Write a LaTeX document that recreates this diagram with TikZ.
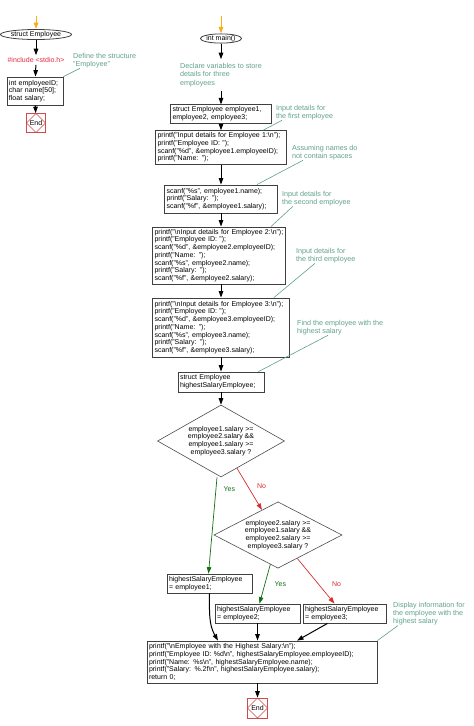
\documentclass[tikz,border=0pt]{standalone}
\usepackage{fontspec}
\setmainfont{Liberation Sans}
\usetikzlibrary{shapes.geometric,arrows.meta,calc}

\definecolor{notegreen}{RGB}{96,160,140}
\definecolor{yesgreen}{RGB}{20,110,20}
\definecolor{nored}{RGB}{215,45,45}
\definecolor{endred}{RGB}{205,75,75}
\definecolor{startorange}{RGB}{250,170,30}
\definecolor{incred}{RGB}{230,40,60}
\newcommand\codefont{\fontsize{7}{7.7}\selectfont}
\newcommand\notefont{\fontsize{7.2}{8.2}\selectfont}

\tikzset{
  code/.style={draw=black!75, line width=0.8pt, rectangle, align=left, inner sep=2pt, font=\codefont},
  term/.style={draw=black!75, line width=0.8pt, ellipse, inner sep=0pt, font=\codefont},
  decide/.style={draw=black!70, line width=0.6pt, diamond, align=center, inner sep=0pt, aspect=1.8, font=\codefont},
  note/.style={text=notegreen, align=left, inner sep=0pt, font=\notefont},
  notelink/.style={notegreen, line width=0.6pt},
  flow/.style={-{Triangle[length=6.5pt,width=4.5pt]}, line width=1pt, black},
  startflow/.style={flow, startorange},
  yesflow/.style={flow, yesgreen, line width=0.7pt},
  noflow/.style={flow, nored, line width=0.7pt},
  endbox/.style={draw=endred, line width=0.6pt, minimum width=19pt, minimum height=19pt, inner sep=0pt, font=\codefont,
    path picture={\draw[endred, line width=0.6pt] (path picture bounding box.north) -- (path picture bounding box.east)
      -- (path picture bounding box.south) -- (path picture bounding box.west) -- cycle;}}
}

\begin{document}
\begin{tikzpicture}[x=1pt, y=-1pt]
    \useasboundingbox (0,0) rectangle (474,726);

    % the structure
    \coordinate (s1) at (36,16);
    \node[term, minimum width=62, minimum height=10] (structE) at (36,34.5) {struct Employee};
    \node[text=incred, inner sep=2pt, font=\codefont] (inc) at (36,60) {\#include <stdio.h>};
    \node[code, minimum height=28, text width=52] (fields) at (35,91) {int employeeID;\\char name[50];\\float salary;};
    \node[endbox] (end1) at (36,123) {End};
    \node[note, anchor=north west] (defnote) at (73,53) {Define the structure\\"Employee"};

    \draw[startflow] (s1) -- (structE);
    \draw[flow] (structE) -- (inc);
    \draw[flow] (inc) -- (fields);
    \draw[flow] (fields) -- (end1);
    \draw[notelink] ([xshift=7pt]defnote.south west) -- (fields.north east);

    % main
    \coordinate (s2) at (221,16);
    \node[term, minimum width=40, minimum height=9] (mainE) at (221,38.5) {int main()};
    \node[note, inner sep=4pt] (declnote) at (221,75) {Declare variables to store\\details for three\\employees};
    \node[code, minimum height=18, text width=97] (decl) at (221,114) {struct Employee employee1,\\employee2, employee3;};
    \node[code, minimum height=28, text width=127] (in1) at (221,147.5) {printf("Input details for Employee 1:\textbackslash n");\\printf("Employee ID: ");\\scanf("\%d", \&employee1.employeeID);\\printf("Name: ");};
    \node[code, minimum height=28, text width=109] (in1b) at (221,199) {scanf("\%s", employee1.name);\\printf("Salary: ");\\scanf("\%f", \&employee1.salary);};
    \node[code, minimum height=57, text width=129] (in2) at (219,255.5) {printf("\textbackslash nInput details for Employee 2:\textbackslash n");\\printf("Employee ID: ");\\scanf("\%d", \&employee2.employeeID);\\printf("Name: ");\\scanf("\%s", employee2.name);\\printf("Salary: ");\\scanf("\%f", \&employee2.salary);};
    \node[code, minimum height=59, text width=133] (in3) at (221,327.5) {printf("\textbackslash nInput details for Employee 3:\textbackslash n");\\printf("Employee ID: ");\\scanf("\%d", \&employee3.employeeID);\\printf("Name: ");\\scanf("\%s", employee3.name);\\printf("Salary: ");\\scanf("\%f", \&employee3.salary);};
    \node[code, minimum height=20, text width=82] (best) at (221,382) {struct Employee\\highestSalaryEmployee;};

    \node[decide, minimum width=127, minimum height=72] (cmp1) at (221,441) {employee1.salary >=\\employee2.salary \&\&\\employee1.salary >=\\employee3.salary ?};
    \node[decide, minimum width=128, minimum height=66] (cmp2) at (278,535) {employee2.salary >=\\employee1.salary \&\&\\employee2.salary >=\\employee3.salary ?};

    \node[code, minimum height=19, text width=81] (set1) at (209.5,583.5) {highestSalaryEmployee\\= employee1;};
    \node[code, minimum height=19, text width=81] (set2) at (257.5,613.5) {highestSalaryEmployee\\= employee2;};
    \node[code, minimum height=19, text width=79] (set3) at (344.5,613.5) {highestSalaryEmployee\\= employee3;};
    \node[code, minimum height=42, text width=226] (show) at (262,662) {printf("\textbackslash nEmployee with the Highest Salary:\textbackslash n");\\printf("Employee ID: \%d\textbackslash n", highestSalaryEmployee.employeeID);\\printf("Name: \%s\textbackslash n", highestSalaryEmployee.name);\\printf("Salary: \%.2f\textbackslash n", highestSalaryEmployee.salary);\\return 0;};
    \node[endbox, minimum width=20pt, minimum height=20pt] (end2) at (257.5,708) {End};

    % comments
    \node[note, anchor=north west] (n1) at (276,105) {Input details for\\the first employee};
    \node[note, anchor=north west] (n2) at (292,145) {Assuming names do\\not contain spaces};
    \node[note, anchor=north west] (n3) at (282,191) {Input details for\\the second employee};
    \node[note, anchor=north west] (n4) at (296,248) {Input details for\\the third employee};
    \node[note, anchor=north west] (n5) at (297,320) {Find the employee with the\\highest salary};
    \node[note, anchor=north west] (n6) at (393,602) {Display information for\\the employee with the\\highest salary};

    \draw[startflow] (s2) -- (mainE);
    \draw[flow] (mainE) -- (declnote);
    \draw[flow] (declnote) -- (decl);
    \draw[flow] (decl) -- (in1);
    \draw[flow] (in1) -- (in1b);
    \draw[flow] (in1b.south) -- (in1b.south |- in2.north);
    \draw[flow] (in1b.south |- in2.south) -- (in1b.south |- in3.north);
    \draw[flow] (in3) -- (best);
    \draw[flow] (best) -- (cmp1);

    \draw[yesflow] ([xshift=-4pt]cmp1.south) -- node[pos=0.12, right=4pt, text=yesgreen, font=\codefont] {Yes} ([xshift=-1pt]set1.north);
    \draw[noflow] ($(cmp1.south)!0.25!(cmp1.east)$) -- node[pos=0.42, right=6pt, text=nored, font=\codefont] {No} ($(cmp2.north)!0.25!(cmp2.west)$);
    \draw[yesflow] ($(cmp2.south)!0.12!(cmp2.west)$) -- node[pos=0.5, right=6pt, text=yesgreen, font=\codefont] {Yes} ([xshift=2pt]set2.north);
    \draw[noflow] ($(cmp2.south)!0.3!(cmp2.east)$) -- node[pos=0.57, right=10pt, text=nored, font=\codefont] {No} ([xshift=-10pt]set3.north);

    \draw[flow] (set1.south) to[out=-90, in=120] ([xshift=-44pt]show.north);
    \draw[flow] (set2.south) -- (set2.south |- show.north);
    \draw[flow] ([xshift=-17pt]set3.south) -- ([xshift=35pt]show.north);
    \draw[flow] (set2.south |- show.south) -- (end2);

    \draw[notelink] ([xshift=6pt]n1.south west) -- ([xshift=-24pt]in1.north east);
    \draw[notelink] ([xshift=11pt]n2.south west) -- ([xshift=-21pt]in1b.north east);
    \draw[notelink] ([xshift=11pt]n3.south west) -- ([xshift=-15pt]in2.north east);
    \draw[notelink] ([xshift=19pt]n4.south west) -- ([xshift=-16pt]in3.north east);
    \draw[notelink] ([xshift=31pt]n5.south west) -- ([xshift=-6pt]best.north east);
    \draw[notelink] ([xshift=5pt]n6.south west) -- (show.north east);
\end{tikzpicture}
\end{document}
